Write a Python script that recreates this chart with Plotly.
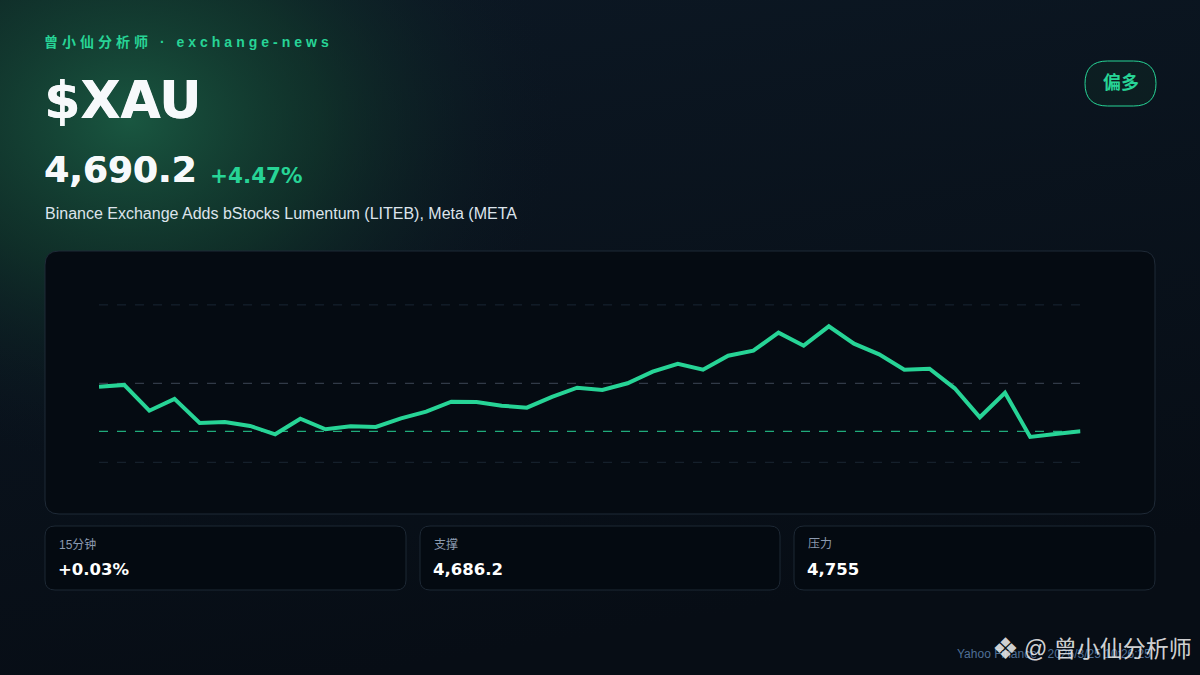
"""
Carte de cours $XAU avec courbe intrajournaliere, recreee avec Plotly.
"""

import urllib.parse
import plotly.graph_objects as go

# donnees
prix = [4712.5, 4713.4, 4700.5, 4706.4, 4694.4, 4694.9, 4692.9, 4688.7, 4696.5, 4691.2,
        4692.7, 4692.4, 4696.7, 4700.0, 4705.0, 4704.9, 4703.0, 4702.0, 4707.4, 4712.0,
        4710.9, 4714.2, 4720.0, 4723.9, 4721.0, 4728.0, 4730.5, 4739.5, 4733.0, 4742.7,
        4734.0, 4728.7, 4721.0, 4721.5, 4711.7, 4697.2, 4709.5, 4687.4, 4688.9, 4690.2]
niveaux_gris = [4753.4, 4674.7]
niveau_moyen = 4714.2
dernier_prix = 4690.2

titre_source = "曾小仙分析师 · exchange-news"
symbole = "$XAU"
prix_texte = "4,690.2"
variation = "+4.47%"
titre_news = "Binance Exchange Adds bStocks Lumentum (LITEB), Meta (META"
biais = "偏多"
cartes_labels = ["15分钟", "支撑", "压力"]
cartes_valeurs = ["+0.03%", "4,686.2", "4,755"]
pied = "Yahoo Finance · 2026/3/25 10:26:25"
filigrane = "@ 曾小仙分析师"

W, H = 1200, 675
VERT = "#27d496"
BLANC = "#f7f9fb"
FONT = "Liberation Sans, Arial, Noto Sans CJK SC, sans-serif"
FONT_CJK = "Liberation Sans, Noto Sans CJK SC, sans-serif"
FONT_LOURD = "DejaVu Sans, sans-serif"


def px(x):
    return x / W


def py(y):
    return 1 - y / H


def rect_arrondi(x0, y0, x1, y1, r):
    """chemin SVG d'un rectangle arrondi (coordonnees papier)"""
    pts = [
        f"M {px(x0 + r)},{py(y0)}",
        f"L {px(x1 - r)},{py(y0)}",
        f"Q {px(x1)},{py(y0)} {px(x1)},{py(y0 + r)}",
        f"L {px(x1)},{py(y1 - r)}",
        f"Q {px(x1)},{py(y1)} {px(x1 - r)},{py(y1)}",
        f"L {px(x0 + r)},{py(y1)}",
        f"Q {px(x0)},{py(y1)} {px(x0)},{py(y1 - r)}",
        f"L {px(x0)},{py(y0 + r)}",
        f"Q {px(x0)},{py(y0)} {px(x0 + r)},{py(y0)}",
        "Z",
    ]
    return " ".join(pts)


# fond en degrade (svg inline)
svg = f"""<svg xmlns='http://www.w3.org/2000/svg' width='{W}' height='{H}'>
<defs>
<linearGradient id='b' x1='0' y1='0' x2='0.3' y2='1'>
<stop offset='0' stop-color='#0c1824'/><stop offset='1' stop-color='#070d15'/>
</linearGradient>
<radialGradient id='g' cx='130' cy='120' r='430' gradientUnits='userSpaceOnUse'
 gradientTransform='translate(130 120) scale(1 0.8) translate(-130 -120)'>
<stop offset='0' stop-color='#1a5a42' stop-opacity='0.95'/>
<stop offset='0.45' stop-color='#13402f' stop-opacity='0.6'/>
<stop offset='1' stop-color='#0c1824' stop-opacity='0'/>
</radialGradient>
</defs>
<rect width='{W}' height='{H}' fill='url(#b)'/>
<rect width='{W}' height='{H}' fill='url(#g)'/>
</svg>"""
fond = "data:image/svg+xml;charset=utf-8," + urllib.parse.quote(svg)

fig = go.Figure()

x = list(range(len(prix)))
fig.add_trace(go.Scatter(x=x, y=prix, mode="lines",
                         line=dict(color=VERT, width=4), hoverinfo="skip"))

# axes : zone de trace entre 99px et 1080px
y_haut, y_bas = 280, 490
k = 0.5
fig.update_layout(
    width=W, height=H,
    margin=dict(l=0, r=0, t=0, b=0),
    paper_bgcolor="#0a131d",
    plot_bgcolor="rgba(0,0,0,0)",
    showlegend=False,
    xaxis=dict(domain=[px(99), px(1080.5)], range=[0, len(prix) - 1],
               visible=False, fixedrange=True),
    yaxis=dict(domain=[py(y_bas), py(y_haut)],
               range=[dernier_prix - (y_bas - 431.3) * k, dernier_prix + (431.3 - y_haut) * k],
               visible=False, fixedrange=True),
    images=[dict(source=fond, xref="paper", yref="paper", x=0, y=1, sizex=1, sizey=1,
                 sizing="stretch", layer="below")],
)

shapes = []
# carte du graphique
shapes.append(dict(type="path", path=rect_arrondi(45, 251, 1155, 514, 14), xref="paper", yref="paper",
                   fillcolor="#050b12", line=dict(color="#1f2a37", width=1), layer="below"))
# lignes de niveau
for v in niveaux_gris:
    shapes.append(dict(type="line", xref="x", yref="y", x0=0, x1=len(prix) - 1, y0=v, y1=v,
                       line=dict(color="#1a2633", width=1, dash="dash"), layer="below"))
shapes.append(dict(type="line", xref="x", yref="y", x0=0, x1=len(prix) - 1, y0=niveau_moyen, y1=niveau_moyen,
                   line=dict(color="#3c4755", width=1, dash="dash"), layer="below"))
shapes.append(dict(type="line", xref="x", yref="y", x0=0, x1=len(prix) - 1, y0=dernier_prix, y1=dernier_prix,
                   line=dict(color=VERT, width=1, dash="dash"), layer="below"))
# petites cartes
cartes_x = [(45, 406), (420, 780), (794, 1155)]
for (a, b) in cartes_x:
    shapes.append(dict(type="path", path=rect_arrondi(a, 526, b, 590, 10), xref="paper", yref="paper",
                       fillcolor="#040a11", line=dict(color="#1d2834", width=1), layer="below"))
# badge
shapes.append(dict(type="path", path=rect_arrondi(1085, 61, 1156, 106, 22.5), xref="paper", yref="paper",
                   fillcolor="rgba(20,60,45,0.25)", line=dict(color=VERT, width=1), layer="below"))
fig.update_layout(shapes=shapes)


def texte(t, x, y, size, color, bold=False, xanchor="left", yanchor="middle", font=FONT, epais=0):
    f = dict(family=font, size=size, color=color)
    if bold:
        t = "<b>" + t + "</b>"
    if epais:
        f["shadow"] = f"{epais}px 0 0 {color}"
    fig.add_annotation(text=t, x=px(x), y=py(y), xref="paper", yref="paper",
                       xanchor=xanchor, yanchor=yanchor, showarrow=False, font=f)


texte(titre_source, 42, 42, 14, VERT, bold=True, font=FONT_CJK)
texte(symbole, 42, 100, 52, BLANC, bold=True, font=FONT_LOURD, epais=0.6)
texte(prix_texte, 42, 170, 36, BLANC, bold=True, font=FONT_LOURD, epais=0.5)
texte(variation, 208, 176, 21.5, VERT, bold=True, font=FONT_LOURD)
texte(titre_news, 43, 214, 16, "#dde4ec")
texte(biais, 1120.5, 83.5, 18, VERT, bold=True, xanchor="center", font=FONT_CJK)

for (a, b), lab, val in zip(cartes_x, cartes_labels, cartes_valeurs):
    texte(lab, a + 12, 544, 12, "#8c9ab0", font=FONT_CJK)
    texte(val, a + 11, 569, 16.5, "#ffffff", bold=True, font=FONT_LOURD)

texte(pied, 1153, 654, 12, "#4f6f96", xanchor="right")
texte("❖", 1021, 648, 30, "rgba(235,235,235,0.9)", xanchor="right", font="DejaVu Sans")
texte(filigrane, 1194, 649, 23, "rgba(235,235,235,0.9)", xanchor="right", font=FONT_CJK)

# marge de page nulle + espacement des lettres du sur-titre
post = """
document.body.style.margin = '0';
document.body.style.background = '#070d15';
var gd = document.getElementById('{plot_id}');
var t = gd.querySelectorAll('.annotation')[0].querySelector('text');
var b0 = t.getBBox();
t.style.letterSpacing = '4px';
var b1 = t.getBBox();
t.setAttribute('transform', 'translate(' + (b0.x - b1.x) + ',0)');
"""

fig.write_html("out.html", post_script=post, config={"displayModeBar": False})
